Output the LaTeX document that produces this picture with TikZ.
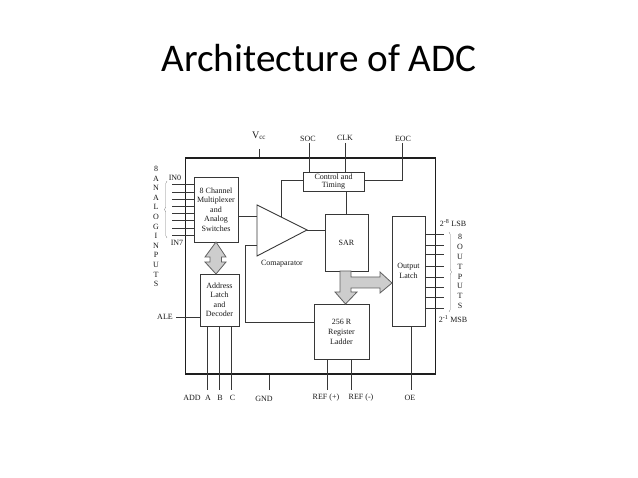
\documentclass[tikz,border=0pt]{standalone}
\usepackage{fontspec}
\setmainfont{Liberation Serif}
\newfontfamily\titlefont{Carlito}
\usetikzlibrary{decorations.pathreplacing}
\definecolor{Wire}{RGB}{55,55,55}
\definecolor{Frame}{RGB}{30,30,30}
\definecolor{Bus}{RGB}{205,205,205}
\definecolor{BusEdge}{RGB}{95,95,95}
\definecolor{Lbl}{RGB}{25,25,25}
\tikzset{
  blockbox/.style={draw=Wire,line width=0.9pt,fill=white,inner sep=0pt,align=center,text=Lbl,font=\fontsize{8}{9.5}\selectfont},
  pinlabel/.style={inner sep=0pt,text=Lbl,font=\fontsize{8}{9.6}\selectfont,align=center},
  wire/.style={draw=Wire,line width=0.9pt},
  buswire/.style={draw=BusEdge,line width=0.8pt,fill=Bus,line join=miter},
  thinbrace/.style={draw=gray,line width=0.4pt,decorate}
}
\begin{document}
\begin{tikzpicture}[x=1pt,y=-1pt,line cap=butt,line join=miter]
\useasboundingbox (0,0) rectangle (638,478);
\node[inner sep=0pt,anchor=base,font=\titlefont\fontsize{39.2}{42}\selectfont,text=black] (title) at (319,72) {Architecture of ADC};
% chip outline
\node[draw=Frame,line width=1.2pt,inner sep=0pt,minimum width=250.5pt,minimum height=216pt] (chip) at (310.5,266) {};
% blocks
\node[blockbox,minimum width=44pt,minimum height=65pt] (mux) at (216,209.5) {8 Channel\\Multiplexer\\and\\Analog\\Switches};
\node[blockbox,minimum width=39pt,minimum height=52pt] (addr) at (219.5,300) {Address\\Latch\\and\\Decoder};
\node[blockbox,minimum width=61pt,minimum height=19pt,font=\fontsize{8}{7.5}\selectfont] (ctrl) at (333.5,181.5) {Control and\\Timing};
\node[blockbox,minimum width=43pt,minimum height=57pt] (sar) at (346.5,242.5) {SAR};
\node[blockbox,minimum width=33pt,minimum height=110pt] (latch) at (408.5,271) {Output\\Latch};
\node[blockbox,minimum width=55pt,minimum height=55pt,font=\fontsize{8}{10}\selectfont] (ladder) at (341.5,331.5) {256 R\\Register\\Ladder};
% comparator
\coordinate (cmptop) at (257,205);
\coordinate (cmpbot) at (257,256);
\coordinate (cmptip) at (307,230);
\coordinate (cmpout) at (281,217.5);
\draw[wire] (cmptop) -- (cmptip) -- (cmpbot) -- cycle;
\node[pinlabel] (cmplbl) at (282,264) {Comaparator};
% inner wiring
\draw[wire] (mux.east |- 0,216) -- (cmptop |- 0,216);
\draw[wire] (cmptip) -- (sar.west |- cmptip);
\draw[wire] (cmpout) |- (ctrl.west |- 0,180);
\draw[wire] (ctrl.south -| sar) -- (sar.north);
\coordinate (fbtop) at (257,245);
\coordinate (fbcorner) at (245,322);
\draw[wire] (fbtop) -| (fbcorner) -- (ladder.west |- fbcorner);
% bus arrows
\draw[buswire] (216,242) -- (226,257) -- (221.5,257) -- (221.5,262) -- (226,262) -- (216,274)
  -- (205,262) -- (210,262) -- (210,257) -- (205,257) -- cycle;
\draw[buswire] (340,271) -- (351,271) -- (351,277) -- (380,277) -- (380,272) -- (392,283)
  -- (380,293) -- (380,288) -- (351,288) -- (351,292) -- (357,292) -- (345.5,304)
  -- (335,292) -- (340,292) -- cycle;
% top pins
\node[pinlabel,font=\fontsize{10}{10}\selectfont] (vcc) at (259,136) {V\textsubscript{cc}};
\node[pinlabel] (soc) at (308,139) {SOC};
\node[pinlabel] (clk) at (345,138) {CLK};
\node[pinlabel] (eoc) at (403,139) {EOC};
\coordinate (vccend) at (259,149);
\coordinate (socend) at (309,143);
\coordinate (clkend) at (345,143);
\coordinate (eocend) at (402,143);
\draw[wire] (vccend) -- (vccend |- chip.north);
\draw[wire] (socend) -- (socend |- ctrl.north);
\draw[wire] (clkend) -- (clkend |- ctrl.north);
\draw[wire] (eocend) |- (ctrl.east |- 0,180);
% analog inputs
\coordinate (in0) at (172,184);
\coordinate (in1) at (172,192);
\coordinate (in2) at (172,199);
\coordinate (in3) at (172,206);
\coordinate (in4) at (172,213);
\coordinate (in5) at (172,220);
\coordinate (in6) at (172,228);
\coordinate (in7) at (172,235);
\draw[wire] (in0) -- (mux.west |- in0);
\draw[wire] (in1) -- (mux.west |- in1);
\draw[wire] (in2) -- (mux.west |- in2);
\draw[wire] (in3) -- (mux.west |- in3);
\draw[wire] (in4) -- (mux.west |- in4);
\draw[wire] (in5) -- (mux.west |- in5);
\draw[wire] (in6) -- (mux.west |- in6);
\draw[wire] (in7) -- (mux.west |- in7);
\node[pinlabel] (inzero) at (175,178) {IN0};
\node[pinlabel] (inseven) at (177,243) {IN7};
\node[pinlabel] (inputs) at (156,226.5) {8\\A\\N\\A\\L\\O\\G\\I\\N\\P\\U\\T\\S};
\draw[thinbrace,decoration={brace,amplitude=2.5pt}] (167,238) -- (167,181);
% address pins
\coordinate (aleend) at (176,317);
\draw[wire] (aleend) -- (addr.west |- aleend);
\node[pinlabel] (ale) at (165,317) {ALE};
\coordinate (pina) at (207,390);
\coordinate (pinb) at (219,390);
\coordinate (pinc) at (231,390);
\coordinate (pingnd) at (269,390);
\draw[wire] (pina) -- (pina |- addr.south);
\draw[wire] (pinb) -- (pinb |- addr.south);
\draw[wire] (pinc) -- (pinc |- addr.south);
\draw[wire] (pingnd) -- (pingnd |- chip.south);
\node[pinlabel] (add) at (192,398) {ADD};
\node[pinlabel] (lbla) at (208,398) {A};
\node[pinlabel] (lblb) at (220,398) {B};
\node[pinlabel] (lblc) at (232.5,398) {C};
\node[pinlabel] (gnd) at (264,399) {GND};
% reference and enable pins
\coordinate (pinrefp) at (327,390);
\coordinate (pinrefn) at (351,390);
\coordinate (pinoe) at (411,390);
\draw[wire] (pinrefp) -- (pinrefp |- ladder.south);
\draw[wire] (pinrefn) -- (pinrefn |- ladder.south);
\draw[wire] (pinoe) -- (pinoe |- latch.south);
\node[pinlabel] (refp) at (326,398) {REF (+)};
\node[pinlabel] (refn) at (361,398) {REF (-)};
\node[pinlabel] (oe) at (410,398) {OE};
% digital outputs
\coordinate (out0) at (444,234);
\coordinate (out1) at (444,245);
\coordinate (out2) at (444,254);
\coordinate (out3) at (444,266);
\coordinate (out4) at (444,277);
\coordinate (out5) at (444,287);
\coordinate (out6) at (444,297);
\coordinate (out7) at (444,308);
\draw[wire] (latch.east |- out0) -- (out0);
\draw[wire] (latch.east |- out1) -- (out1);
\draw[wire] (latch.east |- out2) -- (out2);
\draw[wire] (latch.east |- out3) -- (out3);
\draw[wire] (latch.east |- out4) -- (out4);
\draw[wire] (latch.east |- out5) -- (out5);
\draw[wire] (latch.east |- out6) -- (out6);
\draw[wire] (latch.east |- out7) -- (out7);
\node[pinlabel] (lsb) at (453,223) {2\textsuperscript{-8} LSB};
\node[pinlabel] (msb) at (453,319) {2\textsuperscript{-1} MSB};
\node[pinlabel,font=\fontsize{8}{9.9}\selectfont] (outputs) at (460,271.5) {8\\O\\U\\T\\P\\U\\T\\S};
\draw[thinbrace,decoration={brace,amplitude=2.5pt}] (449,232) -- (449,312);
\end{tikzpicture}
\end{document}
